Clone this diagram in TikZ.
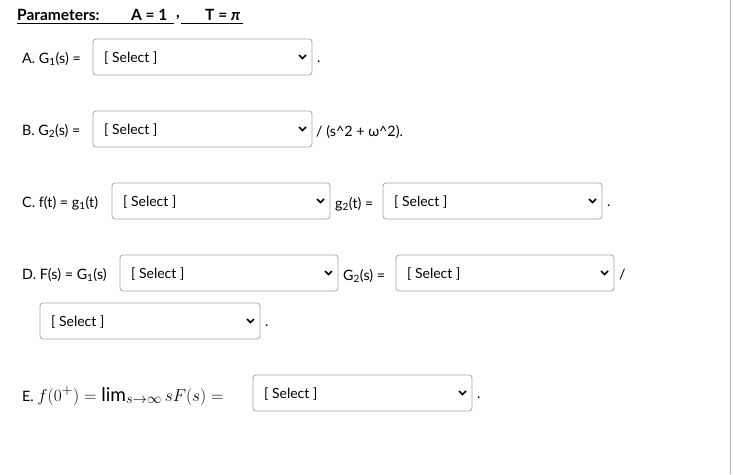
\documentclass[tikz,border=0pt]{standalone}
\usepackage{fontspec}
\setmainfont{Lato}
\usepackage{amsmath}
\begin{document}
\begin{tikzpicture}[x=1pt,y=-1pt,
  lbl/.style={anchor=west,inner sep=0pt,font=\fontsize{14.3}{16}\selectfont},
  sel/.style={draw=gray!70,rounded corners=3pt,line width=0.8pt},
  seltxt/.style={anchor=west,inner sep=0pt,font=\fontsize{14}{16}\selectfont}]
\useasboundingbox (0,0) rectangle (733,474);
\fill[white] (0,0) rectangle (733,474);
\draw[gray!60,line width=1pt] (730.5,0) -- (730.5,474);
\newcommand{\selbox}[5]{% name, x1,y1,x2,y2
  \draw[sel] (#2,#3) rectangle (#4,#5);
  \node[seltxt] (#1) at ({#2+11},{(#3+#5)/2+1}) {[ Select ]};
  \draw[line width=1.6pt] ({#4-13},{(#3+#5)/2-2}) -- ({#4-9.5},{(#3+#5)/2+1.5}) -- ({#4-6},{(#3+#5)/2-2});
}
% parameters
\node[lbl,font=\fontsize{15.5}{17}\selectfont] (par) at (17,15) {\textbf{Parameters:}};
\node[lbl,font=\fontsize{15.5}{17}\selectfont] (pa) at (131,15) {\textbf{A = 1}};
\node[lbl,font=\fontsize{15.5}{17}\selectfont] (pc) at (176,17) {\textbf{,}};
\node[lbl,font=\fontsize{15.5}{17}\selectfont] (pt) at (205,15) {\textbf{T = \textit{π}}};
\draw[line width=1pt] (17,23.5) -- (174,23.5);
\draw[line width=1pt] (181,23.5) -- (243,23.5);
% A
\node[lbl] (la) at (22,59) {A. G\textsubscript{1}(s) =};
\selbox{sa}{93}{39}{312}{75}
\node[lbl] (pda) at (317,62) {.};
% B
\node[lbl] (lb) at (22,131) {B. G\textsubscript{2}(s) =};
\selbox{sb}{93}{111}{312}{147}
\node[lbl] (rb) at (316,132) {/ (s\^{}2 + ω\^{}2).};
% C
\node[lbl] (lc) at (22,203) {C. f(t) = g\textsubscript{1}(t)};
\selbox{sc1}{112}{183}{330}{219}
\node[lbl] (g2) at (335,204) {g\textsubscript{2}(t) =};
\selbox{sc2}{383}{183}{602}{219}
\node[lbl] (pdc) at (607,206) {.};
% D
\node[lbl] (ld) at (22,275) {D. F(s) = G\textsubscript{1}(s)};
\selbox{sd1}{120}{255}{338}{291}
\node[lbl] (G2) at (343,276) {G\textsubscript{2}(s) =};
\selbox{sd2}{396}{255}{614}{291}
\node[lbl] (sl) at (619,275) {/};
\selbox{sd3}{40}{303}{260}{339}
\node[lbl] (pdd) at (265,326) {.};
% E
\node[lbl] (le) at (22,396) {E. {\fontsize{19}{21}\selectfont$f(0^+)=\lim_{s\to\infty} sF(s)=$}};
\selbox{se}{253}{375}{472}{411}
\node[lbl] (pde) at (477,398) {.};
\end{tikzpicture}
\end{document}
